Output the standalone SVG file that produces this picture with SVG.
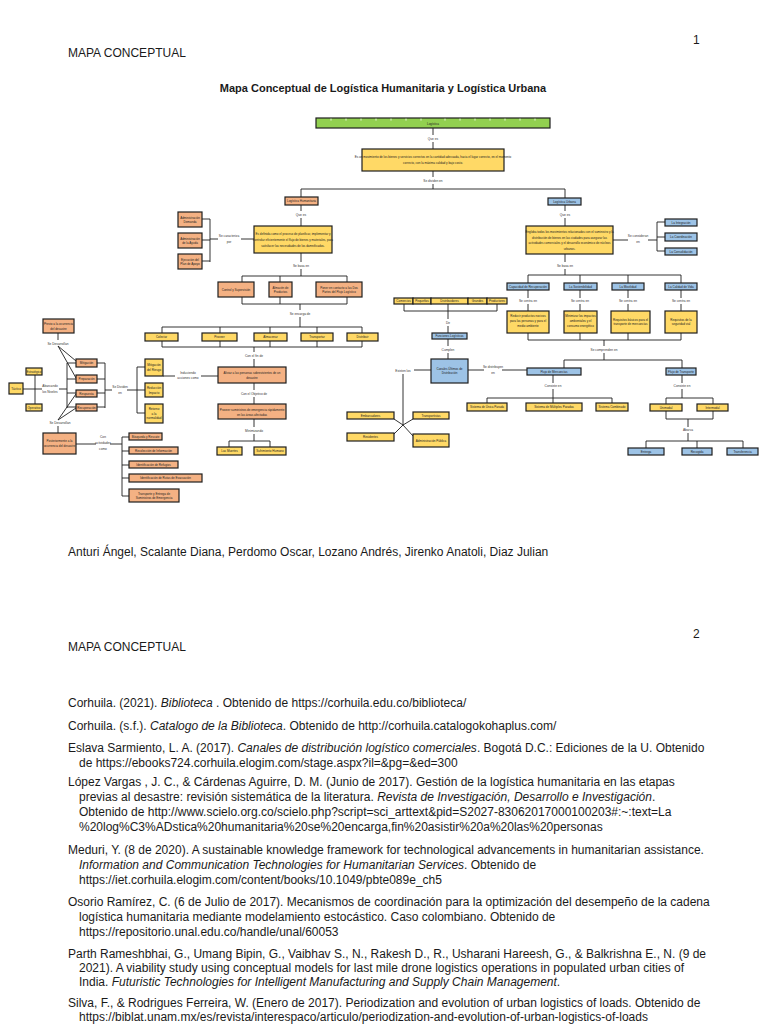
<svg xmlns="http://www.w3.org/2000/svg" width="768" height="1024" viewBox="0 0 768 1024">
<style>
.pg{font-family:"Liberation Sans",Arial,sans-serif;fill:#1a1a1a}
.hd{font-size:12px}
.rf{font-size:12px}
.it{font-style:italic}
rect.n{stroke:#1e1e1e;stroke-width:1.2}
.g{fill:#92d050}.y{fill:#ffd966}.s{fill:#f4b183}.b{fill:#9dc3e6}
.t{font-family:"Liberation Sans",Arial,sans-serif;font-size:3px;fill:#222;text-anchor:middle}
.lb{font-family:"Liberation Sans",Arial,sans-serif;font-size:3.2px;fill:#333;text-anchor:middle}
.c path{stroke:#1e1e1e;stroke-width:0.9;fill:none}
.tk{stroke:#fff;stroke-width:0.8}
</style>
<rect width="768" height="1024" fill="#fff"/>
<text class="pg hd" x="68" y="57">MAPA CONCEPTUAL</text>
<text class="pg hd" x="693" y="44">1</text>
<text class="pg" x="383" y="92" font-size="11" font-weight="bold" text-anchor="middle">Mapa Conceptual de Logística Humanitaria y Logística Urbana</text>

<g class="c" id="connectors">
<path d="M433,128V135M433,142V149M433,171V177M433,184V189M301,189H565M301,189V197M565,189V198"/>
<path d="M301,205V211M301,218V226M254,239H241M218,239H210M210,219V262M202,219H210M202,240H210M202,261H210"/>
<path d="M301,253V262M301,269V276M242,276H347M242,276V282M280,276V282M347,276V282M242,297V304H347V297M280,297V304M300,304V310M300,317V327"/>
<path d="M162,327H362M162,327V333M220,327V333M270,327V333M317,327V333M362,327V333M162,341V347H362V341M220,341V347M270,341V347M317,341V347M254,347V352M254,359V367"/>
<path d="M254,383V390M254,397V404M254,419V427M254,434V441M229,441H270M229,441V447M270,441V447"/>
<path d="M163,376H175M201,376H218M137,367V413M137,367H145M137,390H145M137,413H145M127,390H137M105,390H112"/>
<path d="M105,363V408M97,363H105M97,379H105M97,393H105M97,407H105M67,363V408M67,363H76M67,379H76M67,393H76M67,407H76M59,389H67"/>
<path d="M23,389H42M35,375V404M58,333V340M58,346L76,361M58,346L76,378M58,420L76,394M58,420L76,408M58,426V433"/>
<path d="M76,444H96M110,444H122M122,437V496M122,437H129M122,451H129M122,465H129M122,478H129M122,496H129"/>
<path d="M565,205V211M565,218V226M613,240H628M648,240H657M657,222V251M657,222H665M657,237H665M657,251H665"/>
<path d="M565,254V262M565,269V275M528,275H681M528,275V283M580,275V283M628,275V283M681,275V283M528,290V298M580,290V298M628,290V298M681,290V298M528,304V311M580,304V311M628,304V311M681,304V311"/>
<path d="M528,333V340H681V333M580,333V340M628,333V340M604,340V346M604,353V360M564,360H682M564,360V368M682,360V368"/>
<path d="M553,375V383M553,389V398M487,398H612M487,398V403M553,398V403M612,398V403M682,375V383M682,389V398M666,398H713M666,398V404M713,398V404M666,411V419H713V411M688,419V427M688,433V441M646,441H743M646,441V448M697,441V448M743,441V448"/>
<path d="M404,304V311H497V304M448,304V311M448,311V319M448,326V333M448,339V346M448,353V359M431,370H414M403,374V425M468,370H484M502,370H527"/>
<path d="M403,425L394,419M403,425L413,419M403,425L394,434M403,425L413,436"/>
</g>

<g id="n_logistica"><rect class="n g" x="316" y="118" width="234" height="10"/><path class="tk" d="M331,118.6v2M346,118.6v2M361,118.6v2M376,118.6v2M391,118.6v2M406,118.6v2M421,118.6v2M445,118.6v2M460,118.6v2M475,118.6v2M490,118.6v2M505,118.6v2M520,118.6v2M535,118.6v2"/><text class="t" x="433" y="125" font-size="5">Logística</text></g>
<g id="n_def"><rect class="n y" x="362" y="149" width="142" height="22"/><text class="t" x="433" y="158" font-size="2.6">Es un movimiento de los bienes y servicios correctos en la cantidad adecuada, hacia el lugar correcto, en el momento</text><text class="t" x="433" y="164" font-size="2.6">correcto, con la máxima calidad y bajo costo.</text></g>
<g id="lbl_top"><text class="lb" x="433" y="140">Que es</text><text class="lb" x="433" y="182">Se dividen en</text></g>

<g id="n_lh"><rect class="n s" x="285" y="197" width="33" height="8"/><text class="t" x="301.5" y="202.3" font-size="2.7">Logística Humanitaria</text></g>
<g id="lbl_lh"><text class="lb" x="301" y="216">Que es</text><text class="lb" x="229" y="237">Se caracteriza</text><text class="lb" x="229" y="243">por</text><text class="lb" x="301" y="267">Se basa en</text><text class="lb" x="300" y="315">Se encarga de</text><text class="lb" x="254" y="357">Con el fin de</text><text class="lb" x="254" y="395">Con el Objetivo de</text><text class="lb" x="254" y="432">Minimizando</text><text class="lb" x="188" y="374">Induciendo</text><text class="lb" x="188" y="379">acciones como</text><text class="lb" x="120" y="388">Se Dividen</text><text class="lb" x="120" y="394">en</text><text class="lb" x="50" y="387">Abarcando</text><text class="lb" x="50" y="393">los Niveles</text><text class="lb" x="58" y="345">Se Desarrollan</text><text class="lb" x="60" y="424">Se Desarrollan</text><text class="lb" x="103" y="438">Con</text><text class="lb" x="103" y="444">actividades</text><text class="lb" x="103" y="450">como</text></g>
<g id="n_lhdef"><rect class="n y" x="254" y="226" width="78" height="27"/><text class="t" x="293" y="235" font-size="2.6">Es definida como el proceso de planificar, implementar y</text><text class="t" x="293" y="241" font-size="2.6">controlar eficientemente el flujo de bienes y materiales, para</text><text class="t" x="293" y="247" font-size="2.6">satisfacer las necesidades de los damnificados.</text></g>
<g id="n_ad"><rect class="n s" x="178" y="212" width="24" height="15"/><text class="t" x="190" y="218.5" font-size="2.6">Administración</text><text class="t" x="190" y="223" font-size="2.6">Demanda</text></g>
<g id="n_aa"><rect class="n s" x="178" y="233" width="24" height="15"/><text class="t" x="190" y="239.5" font-size="2.6">Administración</text><text class="t" x="190" y="244" font-size="2.6">de la Ayuda</text></g>
<g id="n_ep"><rect class="n s" x="178" y="254" width="24" height="15"/><text class="t" x="190" y="260.5" font-size="2.6">Ejecución del</text><text class="t" x="190" y="265" font-size="2.6">Plan de Apoyo</text></g>
<g id="n_cs"><rect class="n s" x="218" y="282" width="36" height="15"/><text class="t" x="236" y="290.5">Control y Supervisión</text></g>
<g id="n_ap"><rect class="n s" x="269" y="282" width="23" height="15"/><text class="t" x="280.5" y="288.5">Almacén de</text><text class="t" x="280.5" y="293">Productos</text></g>
<g id="n_pc"><rect class="n s" x="316" y="282" width="46" height="15"/><text class="t" x="339" y="288.5" font-size="2.8">Poner en contacto a las Dos</text><text class="t" x="339" y="293" font-size="2.8">Partes del Flujo Logístico</text></g>
<g id="n_colectar"><rect class="n y" x="145" y="333" width="33" height="8"/><text class="t" x="161.5" y="338.2">Colectar</text></g>
<g id="n_proveer"><rect class="n y" x="202" y="333" width="35" height="8"/><text class="t" x="219.5" y="338.2">Proveer</text></g>
<g id="n_almacenar"><rect class="n y" x="254" y="333" width="33" height="8"/><text class="t" x="270.5" y="338.2">Almacenar</text></g>
<g id="n_transportar"><rect class="n y" x="301" y="333" width="32" height="8"/><text class="t" x="317" y="338.2">Transportar</text></g>
<g id="n_distribuir"><rect class="n y" x="347" y="333" width="31" height="8"/><text class="t" x="362.5" y="338.2">Distribuir</text></g>
<g id="n_aliviar"><rect class="n s" x="218" y="367" width="68" height="16"/><text class="t" x="252" y="374" font-size="2.7">Aliviar a las personas sobrevivientes de un</text><text class="t" x="252" y="379" font-size="2.7">desastre</text></g>
<g id="n_proveer_sum"><rect class="n s" x="218" y="404" width="68" height="15"/><text class="t" x="252" y="410.5" font-size="2.6">Proveer suministros de emergencia rápidamente</text><text class="t" x="252" y="415.5" font-size="2.6">en las áreas afectadas</text></g>
<g id="n_muertes"><rect class="n y" x="217" y="447" width="25" height="8"/><text class="t" x="229.5" y="452.2" font-size="2.7">Las Muertes</text></g>
<g id="n_sufrimiento"><rect class="n y" x="254" y="447" width="32" height="8"/><text class="t" x="270" y="452.2" font-size="2.7">Sufrimiento Humano</text></g>
<g id="n_mitriesgo"><rect class="n y" x="145" y="359" width="18" height="17"/><text class="t" x="154" y="366" font-size="2.6">Mitigación</text><text class="t" x="154" y="370.5" font-size="2.6">del Riesgo</text></g>
<g id="n_reduccion"><rect class="n y" x="145" y="383" width="18" height="14"/><text class="t" x="154" y="389" font-size="2.6">Reducción</text><text class="t" x="154" y="393.5" font-size="2.6">Impacto</text></g>
<g id="n_retorno"><rect class="n y" x="145" y="404" width="18" height="19"/><text class="t" x="154" y="410" font-size="2.6">Retorno</text><text class="t" x="154" y="414.5" font-size="2.6">a la</text><text class="t" x="154" y="419" font-size="2.6">normalidad</text></g>
<g id="n_mitigacion"><rect class="n s" x="76" y="359" width="21" height="8"/><text class="t" x="86.5" y="364.2" font-size="2.7">Mitigación</text></g>
<g id="n_preparacion"><rect class="n s" x="76" y="375" width="21" height="8"/><text class="t" x="86.5" y="380.2" font-size="2.7">Preparación</text></g>
<g id="n_respuesta"><rect class="n s" x="76" y="390" width="21" height="7"/><text class="t" x="86.5" y="394.7" font-size="2.7">Respuesta</text></g>
<g id="n_recuperacion"><rect class="n s" x="76" y="404" width="21" height="7"/><text class="t" x="86.5" y="408.7" font-size="2.6">Recuperación</text></g>
<g id="n_previo"><rect class="n s" x="43" y="319" width="31" height="14"/><text class="t" x="58.5" y="325" font-size="2.6">Previo a la ocurrencia</text><text class="t" x="58.5" y="329.5" font-size="2.6">del desastre</text></g>
<g id="n_posterior"><rect class="n s" x="43" y="433" width="33" height="21"/><text class="t" x="59.5" y="442" font-size="2.6">Posteriormente a la</text><text class="t" x="59.5" y="446.5" font-size="2.6">ocurrencia del desastre</text></g>
<g id="n_estrategico"><rect class="n y" x="26" y="368" width="16" height="7"/><text class="t" x="34" y="372.7" font-size="2.6">Estratégico</text></g>
<g id="n_tactico"><rect class="n y" x="9" y="383" width="14" height="11"/><text class="t" x="16" y="389.5" font-size="2.7">Táctico</text></g>
<g id="n_operativo"><rect class="n y" x="26" y="404" width="16" height="7"/><text class="t" x="34" y="408.7" font-size="2.6">Operativo</text></g>
<g id="n_busqueda"><rect class="n s" x="129" y="433" width="33" height="7"/><text class="t" x="145.5" y="437.7" font-size="2.7">Búsqueda y Rescate</text></g>
<g id="n_recoleccion"><rect class="n s" x="129" y="447" width="49" height="7"/><text class="t" x="153.5" y="451.7" font-size="2.7">Recolección de Información</text></g>
<g id="n_refugios"><rect class="n s" x="129" y="461" width="49" height="7"/><text class="t" x="153.5" y="465.7" font-size="2.7">Identificación de Refugios</text></g>
<g id="n_rutas"><rect class="n s" x="129" y="474" width="73" height="8"/><text class="t" x="165.5" y="479.2" font-size="2.7">Identificación de Rutas de Evacuación</text></g>
<g id="n_transporte"><rect class="n s" x="129" y="489" width="50" height="13"/><text class="t" x="154" y="494.5" font-size="2.7">Transporte y Entrega de</text><text class="t" x="154" y="499" font-size="2.7">Suministros de Emergencia</text></g>

<g id="n_lu"><rect class="n b" x="548" y="198" width="33" height="7"/><text class="t" x="564.5" y="202.7" font-size="2.7">Logística Urbana</text></g>
<g id="lbl_lu"><text class="lb" x="565" y="216">Que es</text><text class="lb" x="638" y="237">Se consideran</text><text class="lb" x="638" y="243">en</text><text class="lb" x="565" y="267">Se basa en</text><text class="lb" x="528" y="302">Se centra en</text><text class="lb" x="580" y="302">Se centra en</text><text class="lb" x="628" y="302">Se centra en</text><text class="lb" x="681" y="302">Se centra en</text><text class="lb" x="604" y="351">Se comprenden en</text><text class="lb" x="553" y="387">Consiste en</text><text class="lb" x="682" y="387">Consiste en</text><text class="lb" x="688" y="431">Abarca</text><text class="lb" x="448" y="324">De</text><text class="lb" x="448" y="351">Cumplen</text><text class="lb" x="403" y="372">Existen los</text><text class="lb" x="493" y="368">Se distribuyen</text><text class="lb" x="493" y="374">en</text></g>
<g id="n_ludef"><rect class="n y" x="526" y="226" width="87" height="28"/><text class="t" x="569.5" y="233" font-size="2.6">Engloba todos los movimientos relacionados con el suministro y la</text><text class="t" x="569.5" y="238.5" font-size="2.6">distribución de bienes en las ciudades para asegurar las</text><text class="t" x="569.5" y="244" font-size="2.6">actividades comerciales y el desarrollo económico de núcleos</text><text class="t" x="569.5" y="249.5" font-size="2.6">urbanos.</text></g>
<g id="n_integracion"><rect class="n b" x="665" y="219" width="32" height="7"/><text class="t" x="681" y="223.7" font-size="2.7">La Integración</text></g>
<g id="n_coordinacion"><rect class="n b" x="665" y="233" width="32" height="8"/><text class="t" x="681" y="238.2" font-size="2.7">La Coordinación</text></g>
<g id="n_consolidacion"><rect class="n b" x="665" y="248" width="32" height="7"/><text class="t" x="681" y="252.7" font-size="2.7">La Consolidación</text></g>
<g id="n_capacidad"><rect class="n b" x="507" y="283" width="42" height="7"/><text class="t" x="528" y="287.7" font-size="2.7">Capacidad de Recuperación</text></g>
<g id="n_sostenibilidad"><rect class="n b" x="564" y="283" width="33" height="7"/><text class="t" x="580.5" y="287.7" font-size="2.7">La Sostenibilidad</text></g>
<g id="n_movilidad"><rect class="n b" x="612" y="283" width="32" height="7"/><text class="t" x="628" y="287.7" font-size="2.7">La Movilidad</text></g>
<g id="n_calidad"><rect class="n b" x="665" y="283" width="32" height="7"/><text class="t" x="681" y="287.7" font-size="2.7">La Calidad de Vida</text></g>
<g id="n_reducir"><rect class="n y" x="507" y="311" width="42" height="22"/><text class="t" x="528" y="317" font-size="2.6">Reducir productos nocivos</text><text class="t" x="528" y="322" font-size="2.6">para las personas y para el</text><text class="t" x="528" y="327" font-size="2.6">medio ambiente</text></g>
<g id="n_minimizar"><rect class="n y" x="564" y="311" width="33" height="22"/><text class="t" x="580.5" y="317" font-size="2.6">Minimizar los impactos</text><text class="t" x="580.5" y="322" font-size="2.6">ambientales y el</text><text class="t" x="580.5" y="327" font-size="2.6">consumo energético</text></g>
<g id="n_requisitos"><rect class="n y" x="611" y="311" width="39" height="22"/><text class="t" x="630.5" y="320.5" font-size="2.6">Requisitos básicos para el</text><text class="t" x="630.5" y="325" font-size="2.6">transporte de mercancías</text></g>
<g id="n_seguridad"><rect class="n y" x="665" y="311" width="32" height="22"/><text class="t" x="681" y="320.5" font-size="2.6">Requisitos de la</text><text class="t" x="681" y="325" font-size="2.6">seguridad vial</text></g>
<g id="n_flujomerc"><rect class="n b" x="527" y="368" width="54" height="7"/><text class="t" x="554" y="372.7" font-size="2.7">Flujo de Mercancías</text></g>
<g id="n_flujotrans"><rect class="n b" x="666" y="368" width="30" height="7"/><text class="t" x="681" y="372.7" font-size="2.7">Flujo de Transporte</text></g>
<g id="n_unica"><rect class="n y" x="467" y="403" width="40" height="8"/><text class="t" x="487" y="408.2" font-size="2.7">Sistema de Única Parada</text></g>
<g id="n_multiples"><rect class="n y" x="526" y="403" width="56" height="8"/><text class="t" x="554" y="408.2" font-size="2.7">Sistema de Múltiples Paradas</text></g>
<g id="n_combinado"><rect class="n y" x="596" y="403" width="32" height="8"/><text class="t" x="612" y="408.2" font-size="2.7">Sistema Combinado</text></g>
<g id="n_unimodal"><rect class="n y" x="650" y="404" width="32" height="7"/><text class="t" x="666" y="408.7" font-size="2.7">Unimodal</text></g>
<g id="n_intermodal"><rect class="n y" x="697" y="404" width="31" height="7"/><text class="t" x="712.5" y="408.7" font-size="2.7">Intermodal</text></g>
<g id="n_entrega"><rect class="n b" x="628" y="448" width="36" height="7"/><text class="t" x="646" y="452.7" font-size="2.7">Entrega</text></g>
<g id="n_recogida"><rect class="n b" x="682" y="448" width="30" height="7"/><text class="t" x="697" y="452.7" font-size="2.7">Recogida</text></g>
<g id="n_transferencia"><rect class="n b" x="727" y="448" width="31" height="7"/><text class="t" x="742.5" y="452.7" font-size="2.7">Transferencia</text></g>

<g id="n_comercios"><rect class="n y" x="394" y="298" width="19" height="6"/><text class="t" x="403.5" y="302" font-size="2.5">Comercios</text></g>
<g id="n_pequenos"><rect class="n y" x="413" y="298" width="18" height="6"/><text class="t" x="422" y="302" font-size="2.5">Pequeños</text></g>
<g id="n_distribuidores"><rect class="n y" x="431" y="298" width="37" height="6"/><text class="t" x="449.5" y="302" font-size="2.5">Distribuidores</text></g>
<g id="n_grandes"><rect class="n y" x="468" y="298" width="19" height="6"/><text class="t" x="477.5" y="302" font-size="2.5">Grandes</text></g>
<g id="n_productores"><rect class="n y" x="487" y="298" width="20" height="6"/><text class="t" x="497" y="302" font-size="2.5">Productores</text></g>
<g id="n_funciones"><rect class="n b" x="432" y="333" width="35" height="6"/><text class="t" x="449.5" y="337" font-size="2.6">Funciones Logísticas</text></g>
<g id="n_canales"><rect class="n b" x="431" y="359" width="37" height="24"/><text class="t" x="449.5" y="369.5" font-size="2.7">Canales Últimos de</text><text class="t" x="449.5" y="374" font-size="2.7">Distribución</text></g>
<g id="n_embarcadores"><rect class="n y" x="347" y="412" width="47" height="7"/><text class="t" x="370.5" y="416.7" font-size="2.7">Embarcadores</text></g>
<g id="n_transportistas"><rect class="n y" x="413" y="412" width="36" height="7"/><text class="t" x="431" y="416.7" font-size="2.7">Transportistas</text></g>
<g id="n_residentes"><rect class="n y" x="347" y="433" width="47" height="8"/><text class="t" x="370.5" y="438.2" font-size="2.7">Residentes</text></g>
<g id="n_adminpub"><rect class="n y" x="413" y="434" width="36" height="13"/><text class="t" x="431" y="441.5" font-size="2.6">Administración Pública</text></g>

<text class="pg hd" x="68" y="556">Anturi Ángel, Scalante Diana, Perdomo Oscar, Lozano Andrés, Jirenko Anatoli, Diaz Julian</text>

<text class="pg hd" x="693" y="638">2</text>
<text class="pg hd" x="68" y="651">MAPA CONCEPTUAL</text>
<g class="pg rf">
<text x="68" y="707">Corhuila. (2021). <tspan class="it">Biblioteca</tspan> . Obtenido de https://corhuila.edu.co/biblioteca/</text>
<text x="68" y="730">Corhuila. (s.f.). <tspan class="it">Catalogo de la Biblioteca</tspan>. Obtenido de http://corhuila.catalogokohaplus.com/</text>
<text x="68" y="752">Eslava Sarmiento, L. A. (2017). <tspan class="it">Canales de distribución logístico comerciales</tspan>. Bogotá D.C.: Ediciones de la U. Obtenido</text>
<text x="79" y="767">de https://ebooks724.corhuila.elogim.com/stage.aspx?il=&amp;pg=&amp;ed=300</text>
<text x="68" y="786">López Vargas , J. C., &amp; Cárdenas Aguirre, D. M. (Junio de 2017). Gestión de la logística humanitaria en las etapas</text>
<text x="79" y="801">previas al desastre: revisión sistemática de la literatura. <tspan class="it">Revista de Investigación, Desarrollo e Investigación</tspan>.</text>
<text x="79" y="816">Obtenido de http://www.scielo.org.co/scielo.php?script=sci_arttext&amp;pid=S2027-83062017000100203#:~:text=La</text>
<text x="79" y="831">%20log%C3%ADstica%20humanitaria%20se%20encarga,fin%20asistir%20a%20las%20personas</text>
<text x="68" y="854">Meduri, Y. (8 de 2020). A sustainable knowledge framework for technological advancements in humanitarian assistance.</text>
<text x="79" y="869"><tspan class="it">Information and Communication Technologies for Humanitarian Services</tspan>. Obtenido de</text>
<text x="79" y="884">https://iet.corhuila.elogim.com/content/books/10.1049/pbte089e_ch5</text>
<text x="68" y="906">Osorio Ramírez, C. (6 de Julio de 2017). Mecanismos de coordinación para la optimización del desempeño de la cadena</text>
<text x="79" y="921">logística humanitaria mediante modelamiento estocástico. Caso colombiano. Obtenido de</text>
<text x="79" y="936">https://repositorio.unal.edu.co/handle/unal/60053</text>
<text x="68" y="958">Parth Rameshbhai, G., Umang Bipin, G., Vaibhav S., N., Rakesh D., R., Usharani Hareesh, G., &amp; Balkrishna E., N. (9 de</text>
<text x="79" y="972">2021). A viability study using conceptual models for last mile drone logistics operations in populated urban cities of</text>
<text x="79" y="986">India. <tspan class="it">Futuristic Technologies for Intelligent Manufacturing and Supply Chain Management</tspan>.</text>
<text x="68" y="1007">Silva, F., &amp; Rodrigues Ferreira, W. (Enero de 2017). Periodization and evolution of urban logistics of loads. Obtenido de</text>
<text x="79" y="1021">https://biblat.unam.mx/es/revista/interespaco/articulo/periodization-and-evolution-of-urban-logistics-of-loads</text>
</g>
</svg>
